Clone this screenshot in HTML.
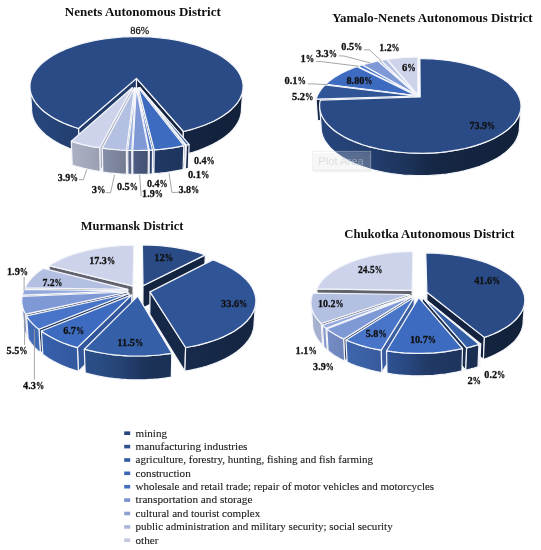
<!DOCTYPE html>
<html><head><meta charset="utf-8"><title>Figure</title>
<style>html,body{margin:0;padding:0;background:#fff}svg{display:block}</style></head>
<body>
<svg width="541" height="550" viewBox="0 0 541 550" font-family='"Liberation Serif", serif'>
<defs><linearGradient id="g1" gradientUnits="userSpaceOnUse" x1="78.5" y1="0" x2="30.0" y2="0"><stop offset="-0.000" stop-color="#233e6f"/><stop offset="0.211" stop-color="#244072"/><stop offset="0.400" stop-color="#254275"/><stop offset="0.564" stop-color="#264478"/><stop offset="0.703" stop-color="#264479"/><stop offset="0.816" stop-color="#26457a"/><stop offset="0.901" stop-color="#27457a"/><stop offset="0.960" stop-color="#27467b"/><stop offset="0.993" stop-color="#27467c"/><stop offset="1.000" stop-color="#28477d"/></linearGradient><linearGradient id="g2" gradientUnits="userSpaceOnUse" x1="243.1" y1="0" x2="183.4" y2="0"><stop offset="-0.000" stop-color="#122039"/><stop offset="0.006" stop-color="#122039"/><stop offset="0.032" stop-color="#12213a"/><stop offset="0.080" stop-color="#12213a"/><stop offset="0.149" stop-color="#13213b"/><stop offset="0.241" stop-color="#13213b"/><stop offset="0.354" stop-color="#13223c"/><stop offset="0.488" stop-color="#13223d"/><stop offset="0.641" stop-color="#14233e"/><stop offset="0.813" stop-color="#142440"/><stop offset="1.000" stop-color="#142541"/></linearGradient><linearGradient id="g3" gradientUnits="userSpaceOnUse" x1="189.1" y1="0" x2="186.2" y2="0"><stop offset="-0.000" stop-color="#17294a"/><stop offset="1.000" stop-color="#172a4a"/></linearGradient><linearGradient id="g4" gradientUnits="userSpaceOnUse" x1="99.7" y1="0" x2="71.3" y2="0"><stop offset="-0.000" stop-color="#9a9eb0"/><stop offset="0.350" stop-color="#a2a7b9"/><stop offset="0.684" stop-color="#a7acbf"/><stop offset="1.000" stop-color="#abb0c3"/></linearGradient><linearGradient id="g5" gradientUnits="userSpaceOnUse" x1="186.0" y1="0" x2="185.3" y2="0"><stop offset="-0.000" stop-color="#1a2f52"/><stop offset="1.000" stop-color="#1a2f52"/></linearGradient><linearGradient id="g6" gradientUnits="userSpaceOnUse" x1="183.8" y1="0" x2="154.2" y2="0"><stop offset="-0.000" stop-color="#1e355e"/><stop offset="0.322" stop-color="#1e355f"/><stop offset="0.657" stop-color="#1f3761"/><stop offset="1.000" stop-color="#203864"/></linearGradient><linearGradient id="g7" gradientUnits="userSpaceOnUse" x1="126.4" y1="0" x2="102.3" y2="0"><stop offset="-0.000" stop-color="#737b91"/><stop offset="0.506" stop-color="#7f879f"/><stop offset="1.000" stop-color="#8790aa"/></linearGradient><linearGradient id="g8" gradientUnits="userSpaceOnUse" x1="152.5" y1="0" x2="149.3" y2="0"><stop offset="-0.000" stop-color="#263d69"/><stop offset="1.000" stop-color="#263e69"/></linearGradient><linearGradient id="g9" gradientUnits="userSpaceOnUse" x1="131.8" y1="0" x2="127.7" y2="0"><stop offset="-0.000" stop-color="#5a6787"/><stop offset="1.000" stop-color="#5e6c8d"/></linearGradient><linearGradient id="g10" gradientUnits="userSpaceOnUse" x1="148.4" y1="0" x2="132.8" y2="0"><stop offset="-0.000" stop-color="#435171"/><stop offset="0.499" stop-color="#475679"/><stop offset="1.000" stop-color="#4e5e84"/></linearGradient></defs>
<g stroke="#f3f5fa" stroke-width="1.20" stroke-linejoin="round"><polygon points="136.5,78.4 78.5,128.5 79.3,152.0 136.5,100.9" fill="#223c6a"/><polygon points="136.5,78.4 183.4,131.5 182.7,155.1 136.5,100.9" fill="#14233f"/><polygon points="78.5,128.5 73.2,126.8 68.2,124.9 63.5,123.0 59.1,120.9 54.9,118.7 51.1,116.4 47.6,114.1 44.4,111.7 41.5,109.2 38.9,106.6 36.7,104.0 34.8,101.4 33.2,98.7 31.9,96.1 31.0,93.4 30.3,90.8 30.0,88.1 30.0,85.5 31.6,108.1 31.6,110.8 31.9,113.5 32.5,116.2 33.5,119.0 34.7,121.7 36.3,124.4 38.2,127.1 40.4,129.7 42.9,132.3 45.7,134.9 48.9,137.3 52.4,139.7 56.2,142.1 60.2,144.3 64.6,146.4 69.3,148.4 74.2,150.3 79.3,152.0" fill="url(#g1)"/><polygon points="243.1,85.5 243.0,88.2 242.7,90.8 242.1,93.5 241.1,96.1 239.9,98.8 238.3,101.5 236.4,104.1 234.1,106.7 231.6,109.2 228.7,111.7 225.5,114.1 222.0,116.5 218.1,118.8 214.0,121.0 209.5,123.0 204.8,125.0 199.8,126.8 194.6,128.5 189.1,130.1 183.4,131.5 182.7,155.1 188.3,153.6 193.7,152.0 198.9,150.3 203.8,148.4 208.4,146.4 212.8,144.3 216.9,142.1 220.7,139.8 224.1,137.4 227.3,134.9 230.2,132.4 232.7,129.8 234.9,127.1 236.8,124.4 238.3,121.7 239.6,119.0 240.5,116.3 241.1,113.6 241.4,110.9 241.5,108.2" fill="url(#g2)"/><polygon points="136.5,78.4 78.5,128.5 73.2,126.8 68.2,124.9 63.5,123.0 59.1,120.9 54.9,118.7 51.1,116.4 47.6,114.1 44.4,111.7 41.5,109.2 38.9,106.6 36.7,104.0 34.8,101.4 33.2,98.7 31.9,96.1 31.0,93.4 30.3,90.8 30.0,88.1 30.0,85.5 30.2,82.9 30.8,80.3 31.6,77.7 32.7,75.3 34.1,72.8 35.7,70.4 37.5,68.1 39.5,65.8 41.8,63.6 44.3,61.5 47.0,59.5 49.8,57.5 52.9,55.6 56.1,53.8 59.4,52.0 62.9,50.4 66.6,48.8 70.4,47.4 74.3,46.0 78.3,44.7 82.4,43.5 86.5,42.4 90.8,41.4 95.2,40.5 99.6,39.7 104.1,39.0 108.6,38.3 113.2,37.8 117.8,37.4 122.4,37.0 127.1,36.8 131.8,36.7 136.5,36.6 141.2,36.7 145.8,36.8 150.5,37.0 155.2,37.4 159.8,37.8 164.3,38.4 168.9,39.0 173.4,39.7 177.8,40.5 182.1,41.4 186.4,42.5 190.6,43.6 194.7,44.7 198.7,46.0 202.6,47.4 206.4,48.9 210.0,50.4 213.5,52.1 216.9,53.8 220.1,55.6 223.2,57.5 226.0,59.5 228.7,61.6 231.2,63.7 233.5,65.9 235.5,68.1 237.4,70.5 239.0,72.9 240.3,75.3 241.4,77.8 242.2,80.3 242.8,82.9 243.1,85.5 243.0,88.2 242.7,90.8 242.1,93.5 241.1,96.1 239.9,98.8 238.3,101.5 236.4,104.1 234.1,106.7 231.6,109.2 228.7,111.7 225.5,114.1 222.0,116.5 218.1,118.8 214.0,121.0 209.5,123.0 204.8,125.0 199.8,126.8 194.6,128.5 189.1,130.1 183.4,131.5" fill="#2a4b85"/></g>
<g stroke="#f3f5fa" stroke-width="1.20" stroke-linejoin="round"><polygon points="139.8,87.7 186.2,145.2 185.4,169.0 139.7,110.4" fill="#162847"/><polygon points="189.1,144.5 186.2,145.2 185.4,169.0 188.3,168.3" fill="url(#g3)"/><polygon points="139.8,87.7 189.1,144.5 186.2,145.2" fill="#2f5597"/></g>
<g stroke="#f3f5fa" stroke-width="1.20" stroke-linejoin="round"><polygon points="132.2,87.7 99.7,147.7 100.2,171.6 132.3,110.4" fill="#a4a9bb"/><polygon points="99.7,147.7 93.7,146.8 87.8,145.6 82.1,144.3 76.6,142.9 71.3,141.3 72.2,165.0 77.5,166.7 82.9,168.1 88.5,169.4 94.3,170.6 100.2,171.6" fill="url(#g4)"/><polygon points="132.2,87.7 99.7,147.7 93.7,146.8 87.8,145.6 82.1,144.3 76.6,142.9 71.3,141.3" fill="#cdd3ea"/></g>
<g stroke="#f3f5fa" stroke-width="1.20" stroke-linejoin="round"><polygon points="139.6,87.7 185.3,145.4 184.5,169.2 139.6,110.4" fill="#192d4f"/><polygon points="186.0,145.2 185.3,145.4 184.5,169.2 185.2,169.0" fill="url(#g5)"/><polygon points="139.6,87.7 186.0,145.2 185.3,145.4" fill="#3560a8"/></g>
<g stroke="#f3f5fa" stroke-width="1.20" stroke-linejoin="round"><polygon points="138.4,87.9 154.2,149.8 153.9,173.7 138.4,110.6" fill="#1d325a"/><polygon points="183.8,145.6 178.2,146.8 172.3,147.8 166.4,148.6 160.3,149.3 154.2,149.8 153.9,173.7 159.9,173.2 165.9,172.5 171.8,171.6 177.5,170.6 183.1,169.5" fill="url(#g6)"/><polygon points="138.4,87.9 183.8,145.6 178.2,146.8 172.3,147.8 166.4,148.6 160.3,149.3 154.2,149.8" fill="#3d6bbf"/></g>
<g stroke="#f3f5fa" stroke-width="1.20" stroke-linejoin="round"><polygon points="134.4,87.9 126.4,150.3 126.5,174.2 134.4,110.7" fill="#555a6a"/><polygon points="126.4,150.3 120.2,150.0 114.2,149.5 108.2,148.9 102.3,148.1 102.8,172.0 108.6,172.8 114.5,173.4 120.5,173.9 126.5,174.2" fill="url(#g7)"/><polygon points="134.4,87.9 126.4,150.3 120.2,150.0 114.2,149.5 108.2,148.9 102.3,148.1" fill="#b4c0e2"/></g>
<g stroke="#f3f5fa" stroke-width="1.20" stroke-linejoin="round"><polygon points="137.1,88.0 149.3,150.1 149.1,174.0 137.0,110.7" fill="#22375e"/><polygon points="152.5,149.9 149.3,150.1 149.1,174.0 152.3,173.8" fill="url(#g8)"/><polygon points="137.1,88.0 152.5,149.9 149.3,150.1" fill="#4875c8"/></g>
<g stroke="#f3f5fa" stroke-width="1.20" stroke-linejoin="round"><polygon points="135.5,88.0 131.8,150.5 131.9,174.4 135.5,110.7" fill="#454f67"/><polygon points="131.8,150.5 127.7,150.4 127.9,174.3 131.9,174.4" fill="url(#g9)"/><polygon points="135.5,88.0 131.8,150.5 127.7,150.4" fill="#93a8dc"/></g>
<g stroke="#f3f5fa" stroke-width="1.20" stroke-linejoin="round"><polygon points="148.4,150.2 143.2,150.4 138.0,150.5 132.8,150.5 132.8,174.4 138.0,174.4 143.1,174.3 148.2,174.1" fill="url(#g10)"/><polygon points="136.3,88.0 148.4,150.2 143.2,150.4 138.0,150.5 132.8,150.5" fill="#7f99d7"/></g>
<defs><linearGradient id="g11" gradientUnits="userSpaceOnUse" x1="521.0" y1="0" x2="319.6" y2="0"><stop offset="-0.000" stop-color="#122039"/><stop offset="0.003" stop-color="#122039"/><stop offset="0.012" stop-color="#12213a"/><stop offset="0.027" stop-color="#12213a"/><stop offset="0.048" stop-color="#13213b"/><stop offset="0.075" stop-color="#13223b"/><stop offset="0.109" stop-color="#13223c"/><stop offset="0.148" stop-color="#13233e"/><stop offset="0.193" stop-color="#14233f"/><stop offset="0.243" stop-color="#142440"/><stop offset="0.297" stop-color="#152541"/><stop offset="0.354" stop-color="#152643"/><stop offset="0.414" stop-color="#162745"/><stop offset="0.476" stop-color="#172a4a"/><stop offset="0.538" stop-color="#1b3156"/><stop offset="0.599" stop-color="#1e355f"/><stop offset="0.659" stop-color="#203965"/><stop offset="0.716" stop-color="#223c6b"/><stop offset="0.769" stop-color="#233e6e"/><stop offset="0.818" stop-color="#244071"/><stop offset="0.861" stop-color="#254275"/><stop offset="0.899" stop-color="#264378"/><stop offset="0.931" stop-color="#264479"/><stop offset="0.957" stop-color="#264479"/><stop offset="0.977" stop-color="#27457a"/><stop offset="0.990" stop-color="#27457b"/><stop offset="0.998" stop-color="#27467c"/><stop offset="1.000" stop-color="#27467d"/></linearGradient></defs>
<g stroke="#f3f5fa" stroke-width="1.20" stroke-linejoin="round"><polygon points="417.8,94.9 387.2,59.4 387.7,79.8 417.8,116.2" fill="#60636e"/><polygon points="417.8,94.9 387.2,59.4 390.9,58.9 394.7,58.4 398.5,58.1 402.4,57.7 406.2,57.5 410.1,57.3 414.0,57.2 417.9,57.2" fill="#cdd3ea"/></g>
<g stroke="#f3f5fa" stroke-width="1.20" stroke-linejoin="round"><polygon points="417.2,95.0 380.8,60.5 381.3,80.8 417.3,116.3" fill="#555a6a"/><polygon points="417.2,95.0 380.8,60.5 383.7,60.0 386.7,59.5" fill="#b4c0e2"/></g>
<g stroke="#f3f5fa" stroke-width="1.20" stroke-linejoin="round"><polygon points="417.1,95.0 378.2,61.0 378.8,81.3 417.1,116.3" fill="#454f67"/><polygon points="417.1,95.0 378.2,61.0 380.7,60.5" fill="#93a8dc"/></g>
<g stroke="#f3f5fa" stroke-width="1.20" stroke-linejoin="round"><polygon points="416.8,95.1 362.5,64.9 363.3,85.4 416.9,116.4" fill="#3c4865"/><polygon points="416.8,95.1 362.5,64.9 366.2,63.8 370.1,62.8 374.0,61.9 378.0,61.0" fill="#7f99d7"/></g>
<g stroke="#f3f5fa" stroke-width="1.20" stroke-linejoin="round"><polygon points="416.6,95.2 357.7,66.4 358.6,86.9 416.6,116.5" fill="#22375e"/><polygon points="416.6,95.2 357.7,66.4 359.9,65.6 362.2,64.9" fill="#4875c8"/></g>
<g stroke="#f3f5fa" stroke-width="1.20" stroke-linejoin="round"><polygon points="416.0,95.5 325.8,84.3 327.2,105.3 416.1,116.7" fill="#1d325a"/><polygon points="416.0,95.5 325.8,84.3 327.9,82.3 330.2,80.4 332.7,78.6 335.3,76.8 338.0,75.2 340.9,73.5 344.0,72.0 347.1,70.5 350.4,69.1 353.8,67.8 357.2,66.6" fill="#3d6bbf"/></g>
<g stroke="#f3f5fa" stroke-width="1.20" stroke-linejoin="round"><polygon points="415.8,95.8 325.1,84.8 326.5,105.8 415.8,117.1" fill="#192d4f"/><polygon points="415.8,95.8 325.1,84.8 325.4,84.5" fill="#3560a8"/></g>
<g stroke="#f3f5fa" stroke-width="1.20" stroke-linejoin="round"><polygon points="415.7,96.0 316.1,99.1 317.6,120.5 415.7,117.3" fill="#162847"/><polygon points="415.7,96.0 316.1,99.1 316.8,97.0 317.7,94.9 318.8,92.8 320.1,90.8 321.5,88.8 323.2,86.9 325.0,85.0" fill="#2f5597"/></g>
<g stroke="#f3f5fa" stroke-width="1.20" stroke-linejoin="round"><polygon points="521.0,106.5 520.8,109.0 520.3,111.6 519.5,114.1 518.4,116.7 517.0,119.2 515.3,121.8 513.3,124.3 510.9,126.7 508.2,129.2 505.2,131.5 501.9,133.8 498.2,136.0 494.3,138.2 490.0,140.2 485.5,142.1 480.7,143.9 475.6,145.6 470.3,147.1 464.8,148.5 459.1,149.7 453.2,150.7 447.2,151.6 441.0,152.3 434.7,152.8 428.4,153.1 422.1,153.3 415.7,153.2 409.3,153.0 403.0,152.5 396.8,151.9 390.7,151.1 384.7,150.2 378.9,149.0 373.3,147.7 367.9,146.3 362.7,144.7 357.7,142.9 353.0,141.0 348.6,139.1 344.5,137.0 340.7,134.8 337.2,132.5 334.0,130.2 331.2,127.8 328.6,125.3 326.4,122.8 324.5,120.3 322.9,117.8 321.6,115.2 320.7,112.7 320.0,110.1 319.7,107.6 319.6,105.0 321.1,126.6 321.2,129.1 321.5,131.7 322.1,134.3 323.1,136.9 324.3,139.6 325.9,142.2 327.8,144.7 330.0,147.3 332.5,149.8 335.3,152.2 338.4,154.6 341.9,156.9 345.6,159.1 349.7,161.3 354.0,163.3 358.6,165.2 363.5,166.9 368.6,168.6 374.0,170.1 379.5,171.4 385.2,172.5 391.1,173.5 397.1,174.3 403.3,175.0 409.5,175.4 415.7,175.7 422.0,175.7 428.3,175.6 434.5,175.2 440.7,174.7 446.7,174.0 452.7,173.1 458.5,172.1 464.1,170.8 469.5,169.4 474.8,167.9 479.8,166.2 484.5,164.4 489.0,162.4 493.1,160.3 497.0,158.2 500.6,155.9 503.9,153.6 506.9,151.2 509.5,148.7 511.8,146.2 513.9,143.6 515.6,141.0 516.9,138.4 518.0,135.8 518.8,133.2 519.3,130.6 519.4,128.0" fill="url(#g11)"/><polygon points="420.2,96.9 419.9,58.6 424.2,58.6 428.6,58.8 432.9,59.0 437.2,59.3 441.4,59.7 445.7,60.2 449.9,60.7 454.1,61.4 458.2,62.1 462.2,63.0 466.2,63.9 470.1,64.9 474.0,66.0 477.7,67.2 481.4,68.4 484.9,69.8 488.4,71.2 491.7,72.7 494.9,74.3 498.0,76.0 500.9,77.7 503.7,79.5 506.3,81.4 508.7,83.4 510.9,85.5 513.0,87.6 514.8,89.8 516.4,92.0 517.8,94.3 519.0,96.7 519.9,99.0 520.5,101.5 520.9,104.0 521.0,106.5 520.8,109.0 520.3,111.6 519.5,114.1 518.4,116.7 517.0,119.2 515.3,121.8 513.3,124.3 510.9,126.7 508.2,129.2 505.2,131.5 501.9,133.8 498.2,136.0 494.3,138.2 490.0,140.2 485.5,142.1 480.7,143.9 475.6,145.6 470.3,147.1 464.8,148.5 459.1,149.7 453.2,150.7 447.2,151.6 441.0,152.3 434.7,152.8 428.4,153.1 422.1,153.3 415.7,153.2 409.3,153.0 403.0,152.5 396.8,151.9 390.7,151.1 384.7,150.2 378.9,149.0 373.3,147.7 367.9,146.3 362.7,144.7 357.7,142.9 353.0,141.0 348.6,139.1 344.5,137.0 340.7,134.8 337.2,132.5 334.0,130.2 331.2,127.8 328.6,125.3 326.4,122.8 324.5,120.3 322.9,117.8 321.6,115.2 320.7,112.7 320.0,110.1 319.7,107.6 319.6,105.0 319.8,102.6 320.3,100.1" fill="#2a4b85"/></g>
<defs><linearGradient id="g12" gradientUnits="userSpaceOnUse" x1="255.9" y1="0" x2="185.6" y2="0"><stop offset="-0.000" stop-color="#142440"/><stop offset="0.006" stop-color="#142541"/><stop offset="0.029" stop-color="#142542"/><stop offset="0.069" stop-color="#152542"/><stop offset="0.128" stop-color="#152643"/><stop offset="0.205" stop-color="#152643"/><stop offset="0.299" stop-color="#152644"/><stop offset="0.410" stop-color="#162745"/><stop offset="0.538" stop-color="#162847"/><stop offset="0.680" stop-color="#172948"/><stop offset="0.835" stop-color="#172a4a"/><stop offset="1.000" stop-color="#172a4b"/></linearGradient><linearGradient id="g13" gradientUnits="userSpaceOnUse" x1="25.5" y1="0" x2="21.8" y2="0"><stop offset="-0.000" stop-color="#758dc6"/><stop offset="0.543" stop-color="#768ec7"/><stop offset="0.875" stop-color="#768fc9"/><stop offset="1.000" stop-color="#7790ca"/></linearGradient><linearGradient id="g14" gradientUnits="userSpaceOnUse" x1="38.9" y1="0" x2="26.5" y2="0"><stop offset="-0.000" stop-color="#416ab5"/><stop offset="0.412" stop-color="#426bb6"/><stop offset="0.745" stop-color="#426bb7"/><stop offset="1.000" stop-color="#426cb8"/></linearGradient><linearGradient id="g15" gradientUnits="userSpaceOnUse" x1="77.4" y1="0" x2="41.4" y2="0"><stop offset="-0.000" stop-color="#32589d"/><stop offset="0.239" stop-color="#335aa1"/><stop offset="0.461" stop-color="#355ca4"/><stop offset="0.662" stop-color="#365ea8"/><stop offset="0.842" stop-color="#3760ac"/><stop offset="1.000" stop-color="#3761ad"/></linearGradient><linearGradient id="g16" gradientUnits="userSpaceOnUse" x1="171.8" y1="0" x2="84.3" y2="0"><stop offset="-0.000" stop-color="#1a3054"/><stop offset="0.143" stop-color="#1b3156"/><stop offset="0.290" stop-color="#1c3359"/><stop offset="0.438" stop-color="#213b68"/><stop offset="0.586" stop-color="#254375"/><stop offset="0.730" stop-color="#28487d"/><stop offset="0.869" stop-color="#2a4d86"/><stop offset="1.000" stop-color="#2c4f8a"/></linearGradient></defs>
<g stroke="#f3f5fa" stroke-width="1.20" stroke-linejoin="round"><polygon points="143.0,285.7 205.3,254.9 204.3,276.5 142.9,308.1" fill="#14233f"/><polygon points="143.0,285.7 142.4,245.0 146.9,245.1 151.3,245.2 155.7,245.4 160.1,245.7 164.5,246.1 168.8,246.6 173.2,247.2 177.4,247.9 181.6,248.6 185.8,249.5 189.9,250.4 193.9,251.4 197.8,252.5 201.6,253.7 205.3,254.9" fill="#2a4b85"/></g>
<g stroke="#f3f5fa" stroke-width="1.20" stroke-linejoin="round"><polygon points="133.0,286.1 49.0,265.7 50.3,287.5 133.1,308.5" fill="#60636e"/><polygon points="133.0,286.1 49.0,265.7 52.0,263.8 55.1,262.1 58.4,260.4 61.8,258.8 65.4,257.3 69.1,255.8 72.9,254.5 76.8,253.2 80.8,252.1 84.9,251.0 89.1,250.0 93.4,249.1 97.7,248.3 102.1,247.6 106.5,247.0 111.0,246.5 115.5,246.1 120.1,245.7 124.6,245.5 129.2,245.4 133.8,245.3" fill="#cdd3ea"/></g>
<g stroke="#f3f5fa" stroke-width="1.20" stroke-linejoin="round"><polygon points="127.8,289.3 25.1,287.8 26.8,310.2 128.0,311.7" fill="#555a6a"/><polygon points="127.8,289.3 25.1,287.8 26.3,285.4 27.7,283.1 29.3,280.8 31.2,278.6 33.2,276.4 35.5,274.3 37.9,272.3 40.5,270.3 43.3,268.4" fill="#b4c0e2"/></g>
<g stroke="#f3f5fa" stroke-width="1.20" stroke-linejoin="round"><polygon points="127.4,290.8 22.3,295.1 24.1,317.7 127.6,313.3" fill="#454f67"/><polygon points="127.4,290.8 22.3,295.1 22.8,293.1 23.4,291.2 24.2,289.3" fill="#93a8dc"/></g>
<g stroke="#f3f5fa" stroke-width="1.20" stroke-linejoin="round"><polygon points="150.0,291.9 185.6,347.5 184.9,371.2 149.8,314.4" fill="#162847"/><polygon points="255.9,300.0 255.8,302.6 255.4,305.3 254.8,307.9 253.8,310.6 252.6,313.2 251.0,315.8 249.1,318.4 246.9,321.0 244.3,323.5 241.5,326.0 238.3,328.3 234.9,330.7 231.1,332.9 227.0,335.0 222.7,337.1 218.1,339.0 213.2,340.8 208.1,342.4 202.8,343.9 197.2,345.3 191.5,346.5 185.6,347.5 184.9,371.2 190.7,370.1 196.3,368.9 201.8,367.5 207.1,366.0 212.1,364.3 216.9,362.5 221.4,360.5 225.7,358.5 229.7,356.3 233.4,354.0 236.8,351.7 239.9,349.2 242.7,346.7 245.2,344.1 247.4,341.5 249.3,338.9 250.9,336.2 252.1,333.5 253.0,330.8 253.7,328.1 254.0,325.4 254.1,322.7" fill="url(#g12)"/><polygon points="150.0,291.9 212.8,259.9 216.6,261.3 220.3,262.9 223.9,264.5 227.3,266.2 230.6,267.9 233.7,269.8 236.7,271.7 239.5,273.7 242.1,275.8 244.5,278.0 246.7,280.2 248.7,282.5 250.5,284.9 252.0,287.3 253.3,289.7 254.3,292.2 255.1,294.8 255.6,297.4 255.9,300.0 255.8,302.6 255.4,305.3 254.8,307.9 253.8,310.6 252.6,313.2 251.0,315.8 249.1,318.4 246.9,321.0 244.3,323.5 241.5,326.0 238.3,328.3 234.9,330.7 231.1,332.9 227.0,335.0 222.7,337.1 218.1,339.0 213.2,340.8 208.1,342.4 202.8,343.9 197.2,345.3 191.5,346.5 185.6,347.5" fill="#2f5597"/></g>
<g stroke="#f3f5fa" stroke-width="1.20" stroke-linejoin="round"><polygon points="127.7,292.0 25.5,314.1 27.2,337.1 127.9,314.5" fill="#3c4865"/><polygon points="25.5,314.1 24.2,311.6 23.2,309.0 22.5,306.5 22.0,303.9 21.8,301.4 23.6,324.1 23.8,326.7 24.2,329.3 24.9,331.9 25.9,334.5 27.2,337.1" fill="url(#g13)"/><polygon points="127.7,292.0 25.5,314.1 24.2,311.6 23.2,309.0 22.5,306.5 22.0,303.9 21.8,301.4 21.9,298.9 22.2,296.4" fill="#7f99d7"/></g>
<g stroke="#f3f5fa" stroke-width="1.20" stroke-linejoin="round"><polygon points="129.1,293.5 38.9,329.3 40.4,352.6 129.2,316.1" fill="#22375e"/><polygon points="38.9,329.3 36.2,327.1 33.8,324.9 31.6,322.7 29.6,320.4 27.9,318.1 26.5,315.8 28.2,338.9 29.6,341.2 31.3,343.6 33.2,345.9 35.3,348.2 37.7,350.4 40.4,352.6" fill="url(#g14)"/><polygon points="129.1,293.5 38.9,329.3 36.2,327.1 33.8,324.9 31.6,322.7 29.6,320.4 27.9,318.1 26.5,315.8" fill="#4875c8"/></g>
<g stroke="#f3f5fa" stroke-width="1.20" stroke-linejoin="round"><polygon points="131.7,294.9 77.4,347.6 78.4,371.3 131.9,317.5" fill="#315699"/><polygon points="77.4,347.6 72.6,346.2 67.9,344.6 63.4,343.0 59.2,341.2 55.1,339.3 51.3,337.3 47.8,335.3 44.4,333.2 41.4,331.0 42.8,354.4 45.9,356.6 49.1,358.7 52.6,360.8 56.4,362.8 60.4,364.7 64.6,366.5 69.0,368.2 73.6,369.8 78.4,371.3" fill="url(#g15)"/><polygon points="131.7,294.9 77.4,347.6 72.6,346.2 67.9,344.6 63.4,343.0 59.2,341.2 55.1,339.3 51.3,337.3 47.8,335.3 44.4,333.2 41.4,331.0" fill="#3d6bbf"/></g>
<g stroke="#f3f5fa" stroke-width="1.20" stroke-linejoin="round"><polygon points="171.8,353.3 165.6,354.2 159.3,355.0 152.9,355.5 146.5,355.9 140.0,356.0 133.5,356.0 127.0,355.8 120.6,355.4 114.2,354.8 107.9,354.0 101.8,353.0 95.8,351.9 90.0,350.6 84.3,349.2 85.2,372.9 90.7,374.3 96.4,375.7 102.3,376.8 108.4,377.8 114.6,378.6 120.8,379.2 127.2,379.6 133.6,379.8 140.0,379.8 146.3,379.7 152.7,379.3 159.0,378.8 165.2,378.0 171.3,377.1" fill="url(#g16)"/><polygon points="137.8,296.1 171.8,353.3 165.6,354.2 159.3,355.0 152.9,355.5 146.5,355.9 140.0,356.0 133.5,356.0 127.0,355.8 120.6,355.4 114.2,354.8 107.9,354.0 101.8,353.0 95.8,351.9 90.0,350.6 84.3,349.2" fill="#3560a8"/></g>
<defs><linearGradient id="g17" gradientUnits="userSpaceOnUse" x1="524.8" y1="0" x2="484.4" y2="0"><stop offset="-0.000" stop-color="#122039"/><stop offset="0.008" stop-color="#122039"/><stop offset="0.042" stop-color="#12213a"/><stop offset="0.101" stop-color="#12213a"/><stop offset="0.187" stop-color="#13213b"/><stop offset="0.300" stop-color="#13213b"/><stop offset="0.438" stop-color="#13223c"/><stop offset="0.602" stop-color="#13223d"/><stop offset="0.790" stop-color="#14233e"/><stop offset="1.000" stop-color="#14243f"/></linearGradient><linearGradient id="g18" gradientUnits="userSpaceOnUse" x1="321.2" y1="0" x2="311.0" y2="0"><stop offset="-0.000" stop-color="#a4afce"/><stop offset="0.368" stop-color="#a5b0cf"/><stop offset="0.651" stop-color="#a6b1d0"/><stop offset="0.850" stop-color="#a7b2d2"/><stop offset="0.965" stop-color="#a8b3d3"/><stop offset="1.000" stop-color="#a9b4d4"/></linearGradient><linearGradient id="g19" gradientUnits="userSpaceOnUse" x1="325.9" y1="0" x2="322.3" y2="0"><stop offset="-0.000" stop-color="#8598c7"/><stop offset="1.000" stop-color="#8699c8"/></linearGradient><linearGradient id="g20" gradientUnits="userSpaceOnUse" x1="343.6" y1="0" x2="326.8" y2="0"><stop offset="-0.000" stop-color="#6e85bb"/><stop offset="0.374" stop-color="#7188bf"/><stop offset="0.708" stop-color="#738ac2"/><stop offset="1.000" stop-color="#738bc3"/></linearGradient><linearGradient id="g21" gradientUnits="userSpaceOnUse" x1="480.7" y1="0" x2="479.5" y2="0"><stop offset="-0.000" stop-color="#162848"/><stop offset="1.000" stop-color="#162848"/></linearGradient><linearGradient id="g22" gradientUnits="userSpaceOnUse" x1="381.2" y1="0" x2="346.0" y2="0"><stop offset="-0.000" stop-color="#375a99"/><stop offset="0.275" stop-color="#3a5ea1"/><stop offset="0.536" stop-color="#3c61a5"/><stop offset="0.778" stop-color="#3d63a9"/><stop offset="1.000" stop-color="#3f66ae"/></linearGradient><linearGradient id="g23" gradientUnits="userSpaceOnUse" x1="478.9" y1="0" x2="466.6" y2="0"><stop offset="-0.000" stop-color="#192e50"/><stop offset="0.488" stop-color="#1a2e51"/><stop offset="1.000" stop-color="#1a2f52"/></linearGradient><linearGradient id="g24" gradientUnits="userSpaceOnUse" x1="462.5" y1="0" x2="386.6" y2="0"><stop offset="-0.000" stop-color="#1e345d"/><stop offset="0.134" stop-color="#1e355f"/><stop offset="0.275" stop-color="#1f3761"/><stop offset="0.420" stop-color="#203864"/><stop offset="0.567" stop-color="#243f70"/><stop offset="0.714" stop-color="#294780"/><stop offset="0.859" stop-color="#2c4d8a"/><stop offset="1.000" stop-color="#2f5293"/></linearGradient></defs>
<g stroke="#f3f5fa" stroke-width="1.20" stroke-linejoin="round"><polygon points="412.1,290.3 316.8,288.9 318.3,310.0 412.2,311.4" fill="#60636e"/><polygon points="412.1,290.3 316.8,288.9 317.9,286.7 319.2,284.5 320.7,282.3 322.4,280.2 324.3,278.2 326.5,276.2 328.8,274.2 331.2,272.4 333.9,270.6 336.7,268.9 339.6,267.2 342.7,265.7 345.9,264.2 349.2,262.7 352.7,261.4 356.2,260.2 359.9,259.0 363.6,257.9 367.5,256.9 371.4,256.0 375.3,255.2 379.4,254.4 383.4,253.7 387.6,253.2 391.7,252.7 395.9,252.3 400.2,252.0 404.4,251.8 408.7,251.6 412.9,251.6" fill="#cdd3ea"/></g>
<g stroke="#f3f5fa" stroke-width="1.20" stroke-linejoin="round"><polygon points="426.9,292.2 484.4,337.4 483.4,359.5 426.8,313.4" fill="#14233f"/><polygon points="524.8,299.4 524.7,301.8 524.4,304.3 523.8,306.8 522.9,309.3 521.6,311.7 520.1,314.2 518.3,316.6 516.2,319.0 513.8,321.4 511.1,323.7 508.1,325.9 504.9,328.0 501.3,330.1 497.4,332.1 493.3,334.0 489.0,335.8 484.4,337.4 483.4,359.5 487.9,357.9 492.2,356.0 496.3,354.1 500.0,352.1 503.6,350.0 506.8,347.8 509.7,345.5 512.4,343.2 514.8,340.8 516.8,338.3 518.6,335.9 520.1,333.3 521.3,330.8 522.2,328.3 522.8,325.7 523.1,323.2 523.2,320.7" fill="url(#g17)"/><polygon points="426.9,292.2 425.8,253.0 430.1,253.1 434.5,253.2 438.9,253.4 443.2,253.8 447.5,254.2 451.8,254.7 456.0,255.3 460.2,256.0 464.3,256.8 468.4,257.6 472.4,258.6 476.3,259.7 480.1,260.8 483.8,262.0 487.5,263.3 491.0,264.7 494.4,266.2 497.6,267.8 500.8,269.4 503.7,271.2 506.6,273.0 509.2,274.8 511.7,276.8 514.0,278.8 516.1,280.9 518.0,283.0 519.7,285.2 521.1,287.5 522.4,289.8 523.3,292.1 524.1,294.5 524.6,296.9 524.8,299.4 524.7,301.8 524.4,304.3 523.8,306.8 522.9,309.3 521.6,311.7 520.1,314.2 518.3,316.6 516.2,319.0 513.8,321.4 511.1,323.7 508.1,325.9 504.9,328.0 501.3,330.1 497.4,332.1 493.3,334.0 489.0,335.8 484.4,337.4" fill="#2a4b85"/></g>
<g stroke="#f3f5fa" stroke-width="1.20" stroke-linejoin="round"><polygon points="409.6,294.5 321.2,323.5 322.7,345.3 409.8,315.8" fill="#555a6a"/><polygon points="321.2,323.5 319.0,321.2 317.1,318.9 315.4,316.6 314.0,314.2 312.9,311.8 312.0,309.5 311.4,307.1 311.1,304.7 311.0,302.3 312.6,323.7 312.7,326.2 313.0,328.6 313.6,331.0 314.5,333.5 315.6,335.9 317.0,338.3 318.6,340.7 320.5,343.0 322.7,345.3" fill="url(#g18)"/><polygon points="409.6,294.5 321.2,323.5 319.0,321.2 317.1,318.9 315.4,316.6 314.0,314.2 312.9,311.8 312.0,309.5 311.4,307.1 311.1,304.7 311.0,302.3 311.1,300.0 311.5,297.7 312.1,295.4 313.0,293.1" fill="#b4c0e2"/></g>
<g stroke="#f3f5fa" stroke-width="1.20" stroke-linejoin="round"><polygon points="411.0,295.9 325.9,328.2 327.3,350.2 411.1,317.2" fill="#454f67"/><polygon points="325.9,328.2 324.1,326.7 322.3,325.1 323.8,347.0 325.5,348.6 327.3,350.2" fill="url(#g19)"/><polygon points="411.0,295.9 325.9,328.2 324.1,326.7 322.3,325.1" fill="#93a8dc"/></g>
<g stroke="#f3f5fa" stroke-width="1.20" stroke-linejoin="round"><polygon points="412.0,296.4 343.6,338.9 344.7,361.1 412.1,317.7" fill="#3c4865"/><polygon points="343.6,338.9 339.7,337.1 336.1,335.1 332.8,333.1 329.6,331.0 326.8,328.9 328.1,350.8 331.0,353.0 334.0,355.2 337.4,357.2 340.9,359.2 344.7,361.1" fill="url(#g20)"/><polygon points="412.0,296.4 343.6,338.9 339.7,337.1 336.1,335.1 332.8,333.1 329.6,331.0 326.8,328.9" fill="#7f99d7"/></g>
<g stroke="#f3f5fa" stroke-width="1.20" stroke-linejoin="round"><polygon points="422.8,297.1 479.5,344.3 478.6,366.5 422.8,318.3" fill="#162847"/><polygon points="480.7,343.9 479.5,344.3 478.6,366.5 479.8,366.1" fill="url(#g21)"/><polygon points="422.8,297.1 480.7,343.9 479.5,344.3" fill="#2f5597"/></g>
<g stroke="#f3f5fa" stroke-width="1.20" stroke-linejoin="round"><polygon points="414.2,297.2 381.2,350.2 381.8,372.5 414.3,318.5" fill="#3a5ea0"/><polygon points="381.2,350.2 375.6,349.2 370.2,348.0 364.9,346.6 359.8,345.1 355.0,343.5 350.3,341.8 346.0,339.9 347.1,362.1 351.4,364.0 355.9,365.8 360.7,367.4 365.7,368.9 370.9,370.3 376.3,371.5 381.8,372.5" fill="url(#g22)"/><polygon points="414.2,297.2 381.2,350.2 375.6,349.2 370.2,348.0 364.9,346.6 359.8,345.1 355.0,343.5 350.3,341.8 346.0,339.9" fill="#4875c8"/></g>
<g stroke="#f3f5fa" stroke-width="1.20" stroke-linejoin="round"><polygon points="422.3,297.2 466.6,347.9 465.8,370.3 422.2,318.5" fill="#192d4f"/><polygon points="478.9,344.4 474.9,345.7 470.8,346.9 466.6,347.9 465.8,370.3 470.0,369.2 474.1,368.0 478.0,366.7" fill="url(#g23)"/><polygon points="422.3,297.2 478.9,344.4 474.9,345.7 470.8,346.9 466.6,347.9" fill="#3560a8"/></g>
<g stroke="#f3f5fa" stroke-width="1.20" stroke-linejoin="round"><polygon points="462.5,348.5 457.1,349.7 451.5,350.7 445.8,351.6 440.0,352.3 434.1,352.9 428.1,353.2 422.1,353.4 416.1,353.4 410.0,353.2 404.0,352.9 398.1,352.4 392.3,351.7 386.6,350.8 387.0,373.2 392.7,374.1 398.4,374.8 404.3,375.3 410.2,375.7 416.1,375.8 422.0,375.8 428.0,375.6 433.8,375.3 439.7,374.7 445.4,374.0 451.0,373.1 456.5,372.1 461.9,370.9" fill="url(#g24)"/><polygon points="418.8,297.6 462.5,348.5 457.1,349.7 451.5,350.7 445.8,351.6 440.0,352.3 434.1,352.9 428.1,353.2 422.1,353.4 416.1,353.4 410.0,353.2 404.0,352.9 398.1,352.4 392.3,351.7 386.6,350.8" fill="#3d6bbf"/></g>
<text x="64.8" y="16.3" font-size="13.00" font-weight="bold" textLength="156.0" lengthAdjust="spacingAndGlyphs" text-anchor="start" fill="#111">Nenets Autonomous District</text>
<text x="332.2" y="22.3" font-size="13.00" font-weight="bold" textLength="200.3" lengthAdjust="spacingAndGlyphs" text-anchor="start" fill="#111">Yamalo-Nenets Autonomous District</text>
<text x="80.8" y="229.8" font-size="13.00" font-weight="bold" textLength="102.6" lengthAdjust="spacingAndGlyphs" text-anchor="start" fill="#111">Murmansk District</text>
<text x="344.2" y="237.8" font-size="13.00" font-weight="bold" textLength="170.4" lengthAdjust="spacingAndGlyphs" text-anchor="start" fill="#111">Chukotka Autonomous District</text>
<text y="34.0" font-size="11.00" fill="#111" stroke="#111" stroke-width="0.28"><tspan x="130.3" textLength="10.4" lengthAdjust="spacingAndGlyphs">86</tspan><tspan x="140.7" textLength="8.4" lengthAdjust="spacingAndGlyphs">%</tspan></text>
<text y="163.7" font-size="11.00" font-weight="bold" fill="#111" stroke="#111" stroke-width="0.3"><tspan x="193.9" textLength="12.7" lengthAdjust="spacingAndGlyphs">0.4</tspan><tspan x="206.6" textLength="8.1" lengthAdjust="spacingAndGlyphs">%</tspan></text>
<text y="177.9" font-size="11.00" font-weight="bold" fill="#111" stroke="#111" stroke-width="0.3"><tspan x="187.9" textLength="13.0" lengthAdjust="spacingAndGlyphs">0.1</tspan><tspan x="200.9" textLength="8.3" lengthAdjust="spacingAndGlyphs">%</tspan></text>
<text y="192.9" font-size="11.00" font-weight="bold" fill="#111" stroke="#111" stroke-width="0.3"><tspan x="178.4" textLength="12.6" lengthAdjust="spacingAndGlyphs">3.8</tspan><tspan x="191.0" textLength="8.1" lengthAdjust="spacingAndGlyphs">%</tspan></text>
<text y="187.4" font-size="11.00" font-weight="bold" fill="#111" stroke="#111" stroke-width="0.3"><tspan x="147.0" textLength="12.5" lengthAdjust="spacingAndGlyphs">0.4</tspan><tspan x="159.5" textLength="8.0" lengthAdjust="spacingAndGlyphs">%</tspan></text>
<text y="197.0" font-size="11.00" font-weight="bold" fill="#111" stroke="#111" stroke-width="0.3"><tspan x="142.1" textLength="12.6" lengthAdjust="spacingAndGlyphs">1.9</tspan><tspan x="154.7" textLength="8.1" lengthAdjust="spacingAndGlyphs">%</tspan></text>
<text y="189.8" font-size="11.00" font-weight="bold" fill="#111" stroke="#111" stroke-width="0.3"><tspan x="117.0" textLength="12.7" lengthAdjust="spacingAndGlyphs">0.5</tspan><tspan x="129.7" textLength="8.1" lengthAdjust="spacingAndGlyphs">%</tspan></text>
<text y="193.2" font-size="11.00" font-weight="bold" fill="#111" stroke="#111" stroke-width="0.3"><tspan x="91.7" textLength="5.3" lengthAdjust="spacingAndGlyphs">3</tspan><tspan x="97.0" textLength="8.4" lengthAdjust="spacingAndGlyphs">%</tspan></text>
<text y="180.7" font-size="11.00" font-weight="bold" fill="#111" stroke="#111" stroke-width="0.3"><tspan x="57.7" textLength="12.4" lengthAdjust="spacingAndGlyphs">3.9</tspan><tspan x="70.1" textLength="7.9" lengthAdjust="spacingAndGlyphs">%</tspan></text>
<text y="50.2" font-size="11.00" font-weight="bold" fill="#111" stroke="#111" stroke-width="0.3"><tspan x="341.3" textLength="12.8" lengthAdjust="spacingAndGlyphs">0.5</tspan><tspan x="354.1" textLength="8.2" lengthAdjust="spacingAndGlyphs">%</tspan></text>
<text y="51.2" font-size="11.00" font-weight="bold" fill="#111" stroke="#111" stroke-width="0.3"><tspan x="379.3" textLength="12.3" lengthAdjust="spacingAndGlyphs">1.2</tspan><tspan x="391.6" textLength="7.9" lengthAdjust="spacingAndGlyphs">%</tspan></text>
<text y="56.7" font-size="11.00" font-weight="bold" fill="#111" stroke="#111" stroke-width="0.3"><tspan x="315.9" textLength="12.8" lengthAdjust="spacingAndGlyphs">3.3</tspan><tspan x="328.7" textLength="8.2" lengthAdjust="spacingAndGlyphs">%</tspan></text>
<text y="61.8" font-size="11.00" font-weight="bold" fill="#111" stroke="#111" stroke-width="0.3"><tspan x="300.4" textLength="5.3" lengthAdjust="spacingAndGlyphs">1</tspan><tspan x="305.7" textLength="8.4" lengthAdjust="spacingAndGlyphs">%</tspan></text>
<text y="70.9" font-size="11.00" font-weight="bold" fill="#111" stroke="#111" stroke-width="0.3"><tspan x="401.9" textLength="5.3" lengthAdjust="spacingAndGlyphs">6</tspan><tspan x="407.2" textLength="8.4" lengthAdjust="spacingAndGlyphs">%</tspan></text>
<text y="83.8" font-size="11.00" font-weight="bold" fill="#111" stroke="#111" stroke-width="0.3"><tspan x="346.5" textLength="17.8" lengthAdjust="spacingAndGlyphs">8.80</tspan><tspan x="364.3" textLength="8.1" lengthAdjust="spacingAndGlyphs">%</tspan></text>
<text y="84.4" font-size="11.00" font-weight="bold" fill="#111" stroke="#111" stroke-width="0.3"><tspan x="284.5" textLength="13.1" lengthAdjust="spacingAndGlyphs">0.1</tspan><tspan x="297.6" textLength="8.4" lengthAdjust="spacingAndGlyphs">%</tspan></text>
<text y="100.2" font-size="11.00" font-weight="bold" fill="#111" stroke="#111" stroke-width="0.3"><tspan x="291.9" textLength="13.1" lengthAdjust="spacingAndGlyphs">5.2</tspan><tspan x="305.0" textLength="8.4" lengthAdjust="spacingAndGlyphs">%</tspan></text>
<text y="129.0" font-size="11.00" font-weight="bold" fill="#111" stroke="#111" stroke-width="0.3"><tspan x="469.5" textLength="17.6" lengthAdjust="spacingAndGlyphs">73.9</tspan><tspan x="487.1" textLength="8.0" lengthAdjust="spacingAndGlyphs">%</tspan></text>
<text y="264.3" font-size="11.00" font-weight="bold" fill="#111" stroke="#111" stroke-width="0.3"><tspan x="89.2" textLength="17.7" lengthAdjust="spacingAndGlyphs">17.3</tspan><tspan x="106.9" textLength="8.1" lengthAdjust="spacingAndGlyphs">%</tspan></text>
<text y="285.5" font-size="11.00" font-weight="bold" fill="#111" stroke="#111" stroke-width="0.3"><tspan x="42.5" textLength="12.1" lengthAdjust="spacingAndGlyphs">7.2</tspan><tspan x="54.6" textLength="7.8" lengthAdjust="spacingAndGlyphs">%</tspan></text>
<text y="275.2" font-size="11.00" font-weight="bold" fill="#111" stroke="#111" stroke-width="0.3"><tspan x="7.0" textLength="12.8" lengthAdjust="spacingAndGlyphs">1.9</tspan><tspan x="19.8" textLength="8.2" lengthAdjust="spacingAndGlyphs">%</tspan></text>
<text y="334.2" font-size="11.00" font-weight="bold" fill="#111" stroke="#111" stroke-width="0.3"><tspan x="63.2" textLength="12.7" lengthAdjust="spacingAndGlyphs">6.7</tspan><tspan x="75.9" textLength="8.1" lengthAdjust="spacingAndGlyphs">%</tspan></text>
<text y="345.9" font-size="11.00" font-weight="bold" fill="#111" stroke="#111" stroke-width="0.3"><tspan x="117.3" textLength="17.8" lengthAdjust="spacingAndGlyphs">11.5</tspan><tspan x="135.1" textLength="8.2" lengthAdjust="spacingAndGlyphs">%</tspan></text>
<text y="353.9" font-size="11.00" font-weight="bold" fill="#111" stroke="#111" stroke-width="0.3"><tspan x="6.6" textLength="12.7" lengthAdjust="spacingAndGlyphs">5.5</tspan><tspan x="19.3" textLength="8.2" lengthAdjust="spacingAndGlyphs">%</tspan></text>
<text y="388.7" font-size="11.00" font-weight="bold" fill="#111" stroke="#111" stroke-width="0.3"><tspan x="23.1" textLength="12.9" lengthAdjust="spacingAndGlyphs">4.3</tspan><tspan x="36.0" textLength="8.2" lengthAdjust="spacingAndGlyphs">%</tspan></text>
<text y="260.8" font-size="11.00" font-weight="bold" fill="#111" stroke="#111" stroke-width="0.3"><tspan x="154.3" textLength="10.4" lengthAdjust="spacingAndGlyphs">12</tspan><tspan x="164.7" textLength="8.4" lengthAdjust="spacingAndGlyphs">%</tspan></text>
<text y="306.5" font-size="11.00" font-weight="bold" fill="#111" stroke="#111" stroke-width="0.3"><tspan x="221.1" textLength="18.0" lengthAdjust="spacingAndGlyphs">33.6</tspan><tspan x="239.1" textLength="8.2" lengthAdjust="spacingAndGlyphs">%</tspan></text>
<text y="272.9" font-size="11.00" font-weight="bold" fill="#111" stroke="#111" stroke-width="0.3"><tspan x="358.0" textLength="16.7" lengthAdjust="spacingAndGlyphs">24.5</tspan><tspan x="374.7" textLength="7.6" lengthAdjust="spacingAndGlyphs">%</tspan></text>
<text y="283.8" font-size="11.00" font-weight="bold" fill="#111" stroke="#111" stroke-width="0.3"><tspan x="474.3" textLength="17.7" lengthAdjust="spacingAndGlyphs">41.6</tspan><tspan x="492.0" textLength="8.1" lengthAdjust="spacingAndGlyphs">%</tspan></text>
<text y="307.3" font-size="11.00" font-weight="bold" fill="#111" stroke="#111" stroke-width="0.3"><tspan x="318.1" textLength="17.4" lengthAdjust="spacingAndGlyphs">10.2</tspan><tspan x="335.5" textLength="8.0" lengthAdjust="spacingAndGlyphs">%</tspan></text>
<text y="336.8" font-size="11.00" font-weight="bold" fill="#111" stroke="#111" stroke-width="0.3"><tspan x="365.7" textLength="12.7" lengthAdjust="spacingAndGlyphs">5.8</tspan><tspan x="378.4" textLength="8.1" lengthAdjust="spacingAndGlyphs">%</tspan></text>
<text y="343.1" font-size="11.00" font-weight="bold" fill="#111" stroke="#111" stroke-width="0.3"><tspan x="409.9" textLength="17.9" lengthAdjust="spacingAndGlyphs">10.7</tspan><tspan x="427.8" textLength="8.2" lengthAdjust="spacingAndGlyphs">%</tspan></text>
<text y="353.7" font-size="11.00" font-weight="bold" fill="#111" stroke="#111" stroke-width="0.3"><tspan x="295.6" textLength="12.9" lengthAdjust="spacingAndGlyphs">1.1</tspan><tspan x="308.5" textLength="8.3" lengthAdjust="spacingAndGlyphs">%</tspan></text>
<text y="369.5" font-size="11.00" font-weight="bold" fill="#111" stroke="#111" stroke-width="0.3"><tspan x="313.1" textLength="12.6" lengthAdjust="spacingAndGlyphs">3.9</tspan><tspan x="325.7" textLength="8.0" lengthAdjust="spacingAndGlyphs">%</tspan></text>
<text y="383.8" font-size="11.00" font-weight="bold" fill="#111" stroke="#111" stroke-width="0.3"><tspan x="467.4" textLength="5.2" lengthAdjust="spacingAndGlyphs">2</tspan><tspan x="472.6" textLength="8.4" lengthAdjust="spacingAndGlyphs">%</tspan></text>
<text y="378.0" font-size="11.00" font-weight="bold" fill="#111" stroke="#111" stroke-width="0.3"><tspan x="484.3" textLength="12.7" lengthAdjust="spacingAndGlyphs">0.2</tspan><tspan x="497.0" textLength="8.1" lengthAdjust="spacingAndGlyphs">%</tspan></text>
<polyline points="79.0,179.7 83.4,179.7 86.8,169.4" fill="none" stroke="#9c9c9c" stroke-width="0.90"/>
<polyline points="105.9,192.7 110.6,192.7 114.5,175.0" fill="none" stroke="#9c9c9c" stroke-width="0.90"/>
<polyline points="139.6,175.0 141.2,196.0" fill="none" stroke="#9c9c9c" stroke-width="0.90"/>
<polyline points="169.1,173.3 171.9,192.4 177.9,192.4" fill="none" stroke="#9c9c9c" stroke-width="0.90"/>
<polyline points="24.1,277.0 24.1,290.7" fill="none" stroke="#9c9c9c" stroke-width="0.90"/>
<polyline points="363.9,49.8 369.4,49.8 381.5,61.0" fill="none" stroke="#9c9c9c" stroke-width="0.90"/>
<polyline points="338.8,55.9 344.0,56.0 370.0,62.9" fill="none" stroke="#9c9c9c" stroke-width="0.90"/>
<polyline points="316.2,61.6 321.3,61.6 358.2,66.2" fill="none" stroke="#9c9c9c" stroke-width="0.90"/>
<polyline points="307.8,83.9 312.9,83.9 327.8,84.7" fill="none" stroke="#9c9c9c" stroke-width="0.90"/>
<polyline points="24.6,313.0 24.6,345.0" fill="none" stroke="#9c9c9c" stroke-width="0.90"/>
<polyline points="34.4,329.0 34.4,379.5" fill="none" stroke="#9c9c9c" stroke-width="0.90"/>
<rect x="313.3" y="153" width="58.5" height="19.5" fill="#9a9a9a" fill-opacity="0.10"/>
<rect x="312.4" y="151.2" width="58.4" height="19" fill="#ffffff" fill-opacity="0.2" stroke="#d4d6da" stroke-opacity="0.6" stroke-width="0.6"/>
<text x="318.3" y="165.4" font-size="11.50" textLength="45.5" lengthAdjust="spacingAndGlyphs" text-anchor="start" fill="#c6cad4" font-family='"Liberation Sans", sans-serif' fill-opacity="0.55">Plot Area</text>
<rect x="124.2" y="431.4" width="6.0" height="3.6" fill="#28477e"/>
<text x="135.5" y="436.5" font-size="11.30" textLength="31.5" lengthAdjust="spacingAndGlyphs" text-anchor="start" fill="#222" stroke="#222" stroke-width="0.12">mining</text>
<rect x="124.2" y="444.8" width="6.0" height="3.6" fill="#2d518f"/>
<text x="135.5" y="449.9" font-size="11.30" textLength="112.0" lengthAdjust="spacingAndGlyphs" text-anchor="start" fill="#222" stroke="#222" stroke-width="0.12">manufacturing industries</text>
<rect x="124.2" y="458.2" width="6.0" height="3.6" fill="#325ba0"/>
<text x="135.5" y="463.3" font-size="11.30" textLength="237.6" lengthAdjust="spacingAndGlyphs" text-anchor="start" fill="#222" stroke="#222" stroke-width="0.12">agriculture, forestry, hunting, fishing and fish farming</text>
<rect x="124.2" y="471.5" width="6.0" height="3.6" fill="#3a66b5"/>
<text x="135.5" y="476.6" font-size="11.30" textLength="55.3" lengthAdjust="spacingAndGlyphs" text-anchor="start" fill="#222" stroke="#222" stroke-width="0.12">construction</text>
<rect x="124.2" y="484.9" width="6.0" height="3.6" fill="#446fbe"/>
<text x="135.5" y="490.0" font-size="11.30" textLength="298.6" lengthAdjust="spacingAndGlyphs" text-anchor="start" fill="#222" stroke="#222" stroke-width="0.12">wholesale and retail trade; repair of motor vehicles and motorcycles</text>
<rect x="124.2" y="498.3" width="6.0" height="3.6" fill="#7991cc"/>
<text x="135.5" y="503.4" font-size="11.30" textLength="116.9" lengthAdjust="spacingAndGlyphs" text-anchor="start" fill="#222" stroke="#222" stroke-width="0.12">transportation and storage</text>
<rect x="124.2" y="511.7" width="6.0" height="3.6" fill="#8ca0d1"/>
<text x="135.5" y="516.8" font-size="11.30" textLength="124.8" lengthAdjust="spacingAndGlyphs" text-anchor="start" fill="#222" stroke="#222" stroke-width="0.12">cultural and tourist complex</text>
<rect x="124.2" y="525.1" width="6.0" height="3.6" fill="#abb6d7"/>
<text x="135.5" y="530.2" font-size="11.30" textLength="257.2" lengthAdjust="spacingAndGlyphs" text-anchor="start" fill="#222" stroke="#222" stroke-width="0.12">public administration and military security; social security</text>
<rect x="124.2" y="538.4" width="6.0" height="3.6" fill="#c3c8de"/>
<text x="135.5" y="543.5" font-size="11.30" textLength="22.9" lengthAdjust="spacingAndGlyphs" text-anchor="start" fill="#222" stroke="#222" stroke-width="0.12">other</text>
</svg>
</body></html>
